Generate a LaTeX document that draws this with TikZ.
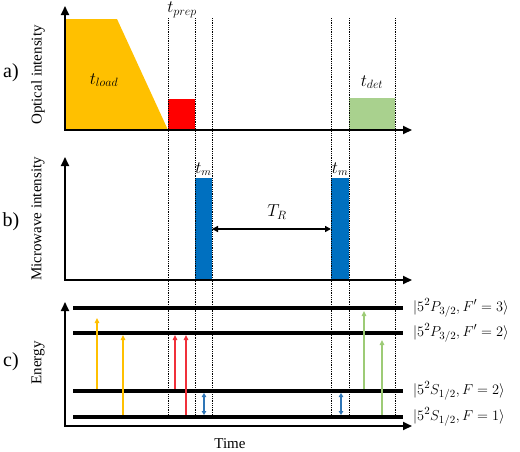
\documentclass[tikz,border=0pt]{standalone}
\usepackage{fontspec}
\setmainfont{Liberation Serif}
\usetikzlibrary{arrows.meta}
\definecolor{gold}{HTML}{FFC000}
\definecolor{pred}{HTML}{FF0000}
\definecolor{lgreen}{HTML}{A9D18E}
\definecolor{mblue}{HTML}{0070C0}
\definecolor{ablue}{HTML}{2E75B6}
\definecolor{agreen}{HTML}{9DCB76}
\definecolor{ared}{HTML}{F0303A}
\begin{document}
\begin{tikzpicture}[x=1pt,y=-1pt,
  axes/.style={line width=2pt,line join=miter,{Triangle[length=9pt,width=8pt]}-{Triangle[length=9pt,width=8pt]}},
  guide/.style={densely dotted,line width=0.8pt},
  level/.style={line width=4pt},
  trans/.style={line width=1.5pt,-{Triangle[length=5pt,width=4.5pt]}},
  dtrans/.style={line width=1.5pt,{Triangle[length=4pt,width=4.5pt]}-{Triangle[length=4pt,width=4.5pt]}},
  ylab/.style={rotate=90,font=\fontsize{15}{17}\selectfont},
  plab/.style={font=\fontsize{20}{22}\selectfont},
  mlab/.style={font=\fontsize{17}{19}\selectfont,inner sep=0pt},
  klab/.style={anchor=west,font=\fontsize{15.5}{17}\selectfont,inner sep=0pt}]
\useasboundingbox (0,0) rectangle (520,451);
% ---------- panel a ----------
\fill[gold] (65,19) -- (117,19) -- (168,130) -- (65,130) -- cycle;
\fill[pred] (168,99) rectangle (195,130);
\fill[lgreen] (349,98) rectangle (395,130);
% ---------- panel b ----------
\fill[mblue] (195,178) rectangle (212,280);
\fill[mblue] (331,178) rectangle (349,280);
% ---------- guides ----------
\foreach \gx in {168,195,212,331,349,395}
  \draw[guide] (\gx,18) -- (\gx,415);
% ---------- axes ----------
\draw[axes] (65,6) -- (65,130) -- (412,130);
\draw[axes] (65,157) -- (65,280) -- (412,280);
\draw[axes] (65,302) -- (65,426) -- (412,426);
% ---------- labels a ----------
\node[plab] (la) at (11,73) {a)};
\node[ylab] (ya) at (38,75) {Optical intensity};
\node[mlab] (tload) at (104,80) {$t_{load}$};
\node[mlab,anchor=north] (tprep) at (182,2) {$t_{prep}$};
\node[mlab] (tdet) at (372,82) {$t_{det}$};
% ---------- labels b ----------
\node[plab] (lb) at (11,222) {b)};
\node[ylab] (yb) at (38,219) {Microwave intensity};
\node[font=\fontsize{16}{18}\selectfont,inner sep=0pt] (tm1) at (203.5,169) {$t_m$};
\node[font=\fontsize{16}{18}\selectfont,inner sep=0pt] (tm2) at (340,169) {$t_m$};
\node[mlab] (tr) at (277,212) {$T_R$};
\coordinate (trl) at (212,229);
\coordinate (trr) at (331,229);
\draw[line width=1.5pt,{Triangle[length=6pt,width=6pt]}-{Triangle[length=6pt,width=6pt]}] (trl) -- (trr);
% ---------- panel c ----------
\node[plab] (lc) at (11,362) {c)};
\node[ylab] (yc) at (38,363) {Energy};
\node[font=\fontsize{15}{17}\selectfont,inner sep=0pt,anchor=south] (time) at (230,449) {Time};
\foreach \ly in {308,333,391,417}
  \draw[level] (73,\ly) -- (403,\ly);
\node[klab] (k3) at (413,308) {$|5^2P_{3/2},F'=3\rangle$};
\node[klab] (k2) at (413,333) {$|5^2P_{3/2},F'=2\rangle$};
\node[klab] (s2) at (413,391) {$|5^2S_{1/2},F=2\rangle$};
\node[klab] (s1) at (413,417) {$|5^2S_{1/2},F=1\rangle$};
% transitions
\draw[trans,gold] (97,389) -- (97,318);
\draw[trans,gold] (123,415) -- (123,335);
\draw[trans,ared] (175,389) -- (175,335);
\draw[trans,ared] (186,415) -- (186,335);
\draw[dtrans,ablue] (204,393) -- (204,415);
\draw[dtrans,ablue] (341,393) -- (341,415);
\draw[trans,agreen] (364,389) -- (364,311);
\draw[trans,agreen] (382,415) -- (382,340);
\end{tikzpicture}
\end{document}
